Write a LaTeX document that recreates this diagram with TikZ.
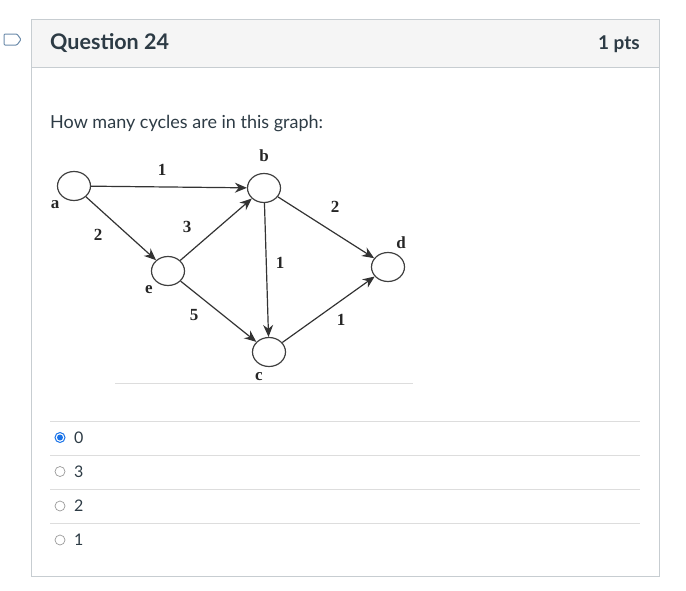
\documentclass[tikz,border=0pt]{standalone}
\usepackage{fontspec}
\setmainfont{Lato}
\newfontfamily\graphfont{Liberation Serif}
\usetikzlibrary{shapes.geometric,arrows.meta}
\definecolor{cardline}{HTML}{C7CDD1}
\definecolor{headbg}{HTML}{F5F5F5}
\definecolor{inktext}{HTML}{2D3B45}
\definecolor{flagblue}{HTML}{6B8BAA}
\definecolor{radioblue}{HTML}{1A73E8}
\definecolor{sepgray}{HTML}{DDDDDD}
\tikzset{
  vertex/.style={draw=black!75,ellipse,minimum width=33pt,minimum height=29pt,inner sep=0pt,line width=1.2pt},
  edge/.style={->,draw=black!80,line width=1.2pt,>={Stealth[length=12pt,width=10pt]}},
  vname/.style={font=\graphfont\bfseries\fontsize{17}{17}\selectfont,text=black!85,inner sep=0pt},
  wlabel/.style={font=\graphfont\bfseries\fontsize{17}{17}\selectfont,text=black!85,inner sep=0pt},
  answer/.style={anchor=base west,text=inktext,font=\fontsize{16}{16}\selectfont,inner sep=0pt},
  radio/.style={draw=gray!80,line width=0.7pt}
}
\begin{document}
\begin{tikzpicture}[x=1pt,y=-1pt]
  \useasboundingbox (0,0) rectangle (686,590);
  % card
  \fill[headbg] (31,19) rectangle (659,67);
  \draw[cardline,line width=1pt] (31,19) rectangle (659,576);
  \draw[cardline,line width=1pt] (31,67) -- (659,67);
  \draw[flagblue,line width=1pt,rounded corners=1pt] (4,34) -- (17,34) -- (21,39.5) -- (17,45) -- (4,45) -- cycle;
  \node[anchor=base west,text=inktext,font=\bfseries\fontsize{21.5}{21.5}\selectfont,inner sep=0pt] (title) at (50,49) {Question 24};
  \node[anchor=base east,text=inktext,font=\bfseries\fontsize{19}{19}\selectfont,inner sep=0pt] (pts) at (640,49) {1 pts};
  \node[anchor=base west,text=inktext,font=\fontsize{18}{18}\selectfont,inner sep=0pt] (ask) at (50,128) {How many cycles are in this graph:};

  % graph
  \draw[sepgray,line width=0.8pt] (115,383) -- (413,383);
  \node[vertex] (a) at (74,186) {};
  \node[vertex] (b) at (264,188) {};
  \node[vertex] (e) at (168,271) {};
  \node[vertex] (d) at (388,267) {};
  \node[vertex] (c) at (269,352) {};
  \node[vname] (la) at (55,205) {a};
  \node[vname] (lb) at (264,156) {b};
  \node[vname] (le) at (149,290) {e};
  \node[vname] (ld) at (401,243) {d};
  \node[vname] (lc) at (259,377) {c};

  \draw[edge] (a) -- (b);
  \draw[edge] (a) -- (e);
  \draw[edge] (e) -- (b);
  \draw[edge] (b) -- (c);
  \draw[edge] (b) -- (d);
  \draw[edge] (e) -- (c);
  \draw[edge] (c) -- (d);

  \node[wlabel] (wab) at (162,170) {1};
  \node[wlabel] (wae) at (98,235) {2};
  \node[wlabel] (web) at (187,227) {3};
  \node[wlabel] (wbc) at (280,263) {1};
  \node[wlabel] (wbd) at (335,207) {2};
  \node[wlabel] (wec) at (194,315) {5};
  \node[wlabel] (wcd) at (341,320) {1};

  % answers
  \foreach \y in {421,455,489,523} \draw[sepgray,line width=0.8pt] (50,\y) -- (640,\y);
  \draw[radioblue,line width=1pt] (60,437.5) circle (5pt);
  \fill[radioblue] (60,437.5) circle (3pt);
  \draw[radio] (60,471.5) circle (5pt);
  \draw[radio] (60,506) circle (5pt);
  \draw[radio] (60,540) circle (5pt);
  \node[answer] (opt0) at (74,443) {0};
  \node[answer] (opt3) at (74,477) {3};
  \node[answer] (opt2) at (74,511.5) {2};
  \node[answer] (opt1) at (74,545.5) {1};
\end{tikzpicture}
\end{document}
